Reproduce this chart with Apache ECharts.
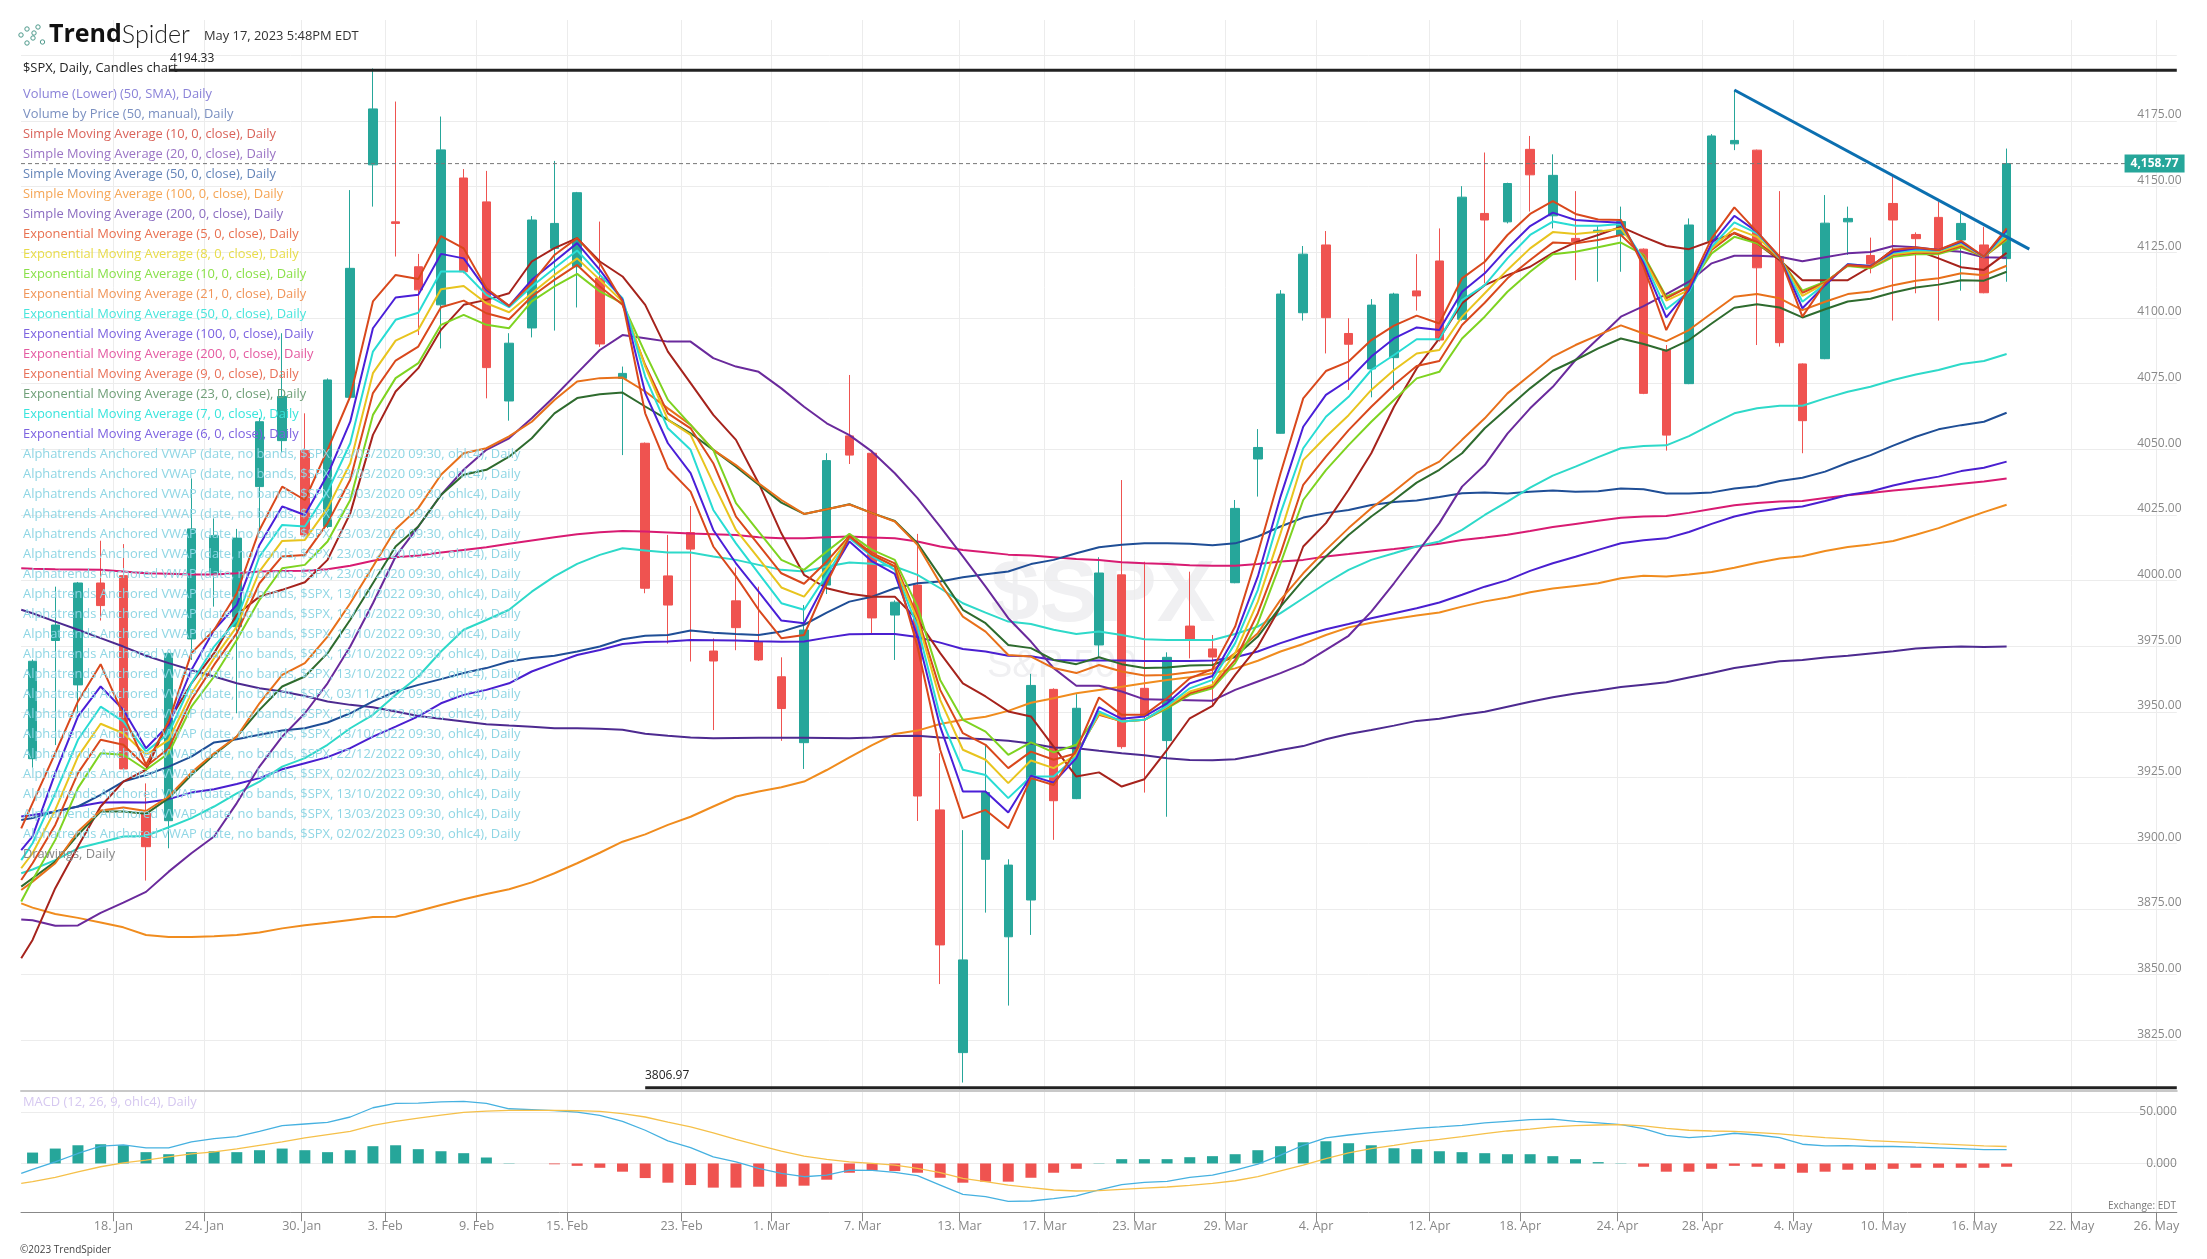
<!DOCTYPE html>
<html>
<head>
<meta charset="utf-8">
<title>$SPX Daily</title>
<script src="https://cdn.jsdelivr.net/npm/echarts@6/dist/echarts.min.js"></script>
<style>
html, body { margin: 0; padding: 0; background: #fff; }
#chart { width: 2207px; height: 1259px; }
</style>
</head>
<body>
<div id="chart"></div>
<script>
// trading day index of the candles: 0..87, x axis runs on this index
const opens = [3932.2,3977.2,3960.3,3999.1,4001.9,3911.4,3908.6,3977.8,4002.8,3982.5,4035.8,4053.3,4049.5,4020.6,4069.8,4158.3,4136.6,4119.5,4105,4153.3,4144.2,4068.4,4096.2,4126.5,4119.5,4115.1,4077,4052.3,4001.8,4018.3,3973.2,3992.3,
3976.8,3963.4,3938.3,3998.3,4055.1,4048.5,3986.9,3998.3,3912.7,3820.3,3893.9,3864.4,3878.4,3958.6,3917,3975.5,4002.2,3959,3939.1,3982.7,3974,3999.2,4046.3,4056.1,4102,4127.8,4094.1,4080.6,4084.9,4110.3,4121.7,4099.5,
4139.8,4136.6,4164.2,4138.9,4130.3,4132.7,4131.6,4126.2,4087.8,4075,4129.3,4166.3,4163.9,4123.3,4082.5,4084.5,4136.6,4123.8,4143.6,4131.8,4138.3,4129.7,4127.8,4122.6];
const closes = [3969.3,3983.1,3999.1,3990.5,3928.3,3898.7,3972.3,4019.7,4017.1,4016.2,4060.5,4070.1,4017.4,4076.4,4118.9,4179.6,4136,4110.7,4164,4117.6,4081.1,4090.4,4137.3,4136,4147.7,4090.1,4078.9,3997.1,3990.7,4012,3969.4,3982.1,
3969.8,3951.3,3981.2,4045.7,4047.8,3985.8,3991.8,3918,3861.3,3855.6,3919.3,3891.7,3960.1,3916.2,3951.4,4002.9,3936.8,3948.6,3970.8,3977.6,3970.9,4027.5,4050.7,4109.1,4124.3,4100.1,4090,4104.9,4109.1,4108.4,4091.6,4146,
4137.3,4151.2,4154.5,4154.3,4129,4133.4,4136.7,4071.3,4055.4,4135.4,4169.3,4167.6,4119.1,4090.6,4060.9,4136.1,4137.9,4120.5,4137.3,4130.2,4125.9,4136,4109.6,4158.77];
const lows = [3928.8,3937.4,3949.5,3984.8,3928,3885.8,3898.1,3969.8,3990.1,3949.5,4018,4048.8,4017,4020,4069,4142.4,4123.4,4093.5,4088.4,4117,4069.4,4060.9,4092.6,4095.2,4104,4089,4047.8,3995.2,3976,3969.2,3943.1,3973.5,
3969.4,3939,3928.3,3994.9,4044.4,3980,3969.8,3908.5,3846.4,3808.9,3873.6,3838.2,3865.1,3901.3,3916.8,3971,3936,3919.3,3910.1,3970.4,3952,3999,4032,4056,4099,4086.5,4072.6,4069.8,4072.6,4102.8,4091,4099,
4113.2,4136,4140.5,4134.1,4114.4,4113.8,4117.6,4071,4049.5,4074.8,4129,4163.9,4089.7,4089.1,4048.5,4084.3,4124,4117,4099,4109.4,4099,4110.4,4109.4,4113.8];
const highs = [3970,3997.7,3999.5,4015.2,4013.9,3922.8,3972.6,4038.9,4023.7,4019.7,4062,4094.2,4063.7,4077,4148.7,4195,4182.4,4124.4,4176.7,4156.7,4156,4094.2,4138.8,4159.8,4148,4136.7,4081.5,4052.6,4017.4,4028.4,3978,4005,
3997.7,3970.8,3990.7,4048.5,4078.3,4049.7,3992.5,4017.8,3934.3,3905,3937.4,3893.9,3964.5,3959,3956.8,4008.9,4038.3,4007.2,3972.7,4003.4,3979.3,4030.7,4057.7,4110.6,4127.4,4133.1,4099.9,4107.2,4109.6,4124.3,4134.1,4150.2,
4163,4151.5,4169.3,4162.3,4148.3,4135,4142.4,4126.5,4089.7,4137.9,4170,4186.8,4164.1,4148.3,4082.7,4146.8,4142.4,4130.6,4153.8,4132.6,4144.3,4139.8,4134.7,4164.5];

// moving averages: first value sits at the left edge of the pane, then one value per candle
const sma10 = [3856.2,3863.2,3882.9,3898.8,3914,3923.5,3928,3946.4,3960.9,3972.4,3987,3993.9,3996.5,3999.4,4007.9,4025.6,4055.5,4072,4080.9,4095.5,4105,4106.9,4109.4,4121.5,4126.6,4130.4,4121.5,4115.8,4105,4087.2,4075.2,4063.1,4053.6,
4037.1,4018,4002.2,3997.1,3995,3993.9,3993.9,3985,3972.4,3960.9,3955.9,3950.2,3948.3,3936.8,3925.4,3927,3921.6,3924.4,3935.6,3947.6,3952.3,3964.1,3974.9,3990.1,4013,4021.9,4034.6,4048.5,4066.2,4080.8,4092.2,4105.6,
4112.5,4116.3,4119.5,4124.8,4128.8,4131.6,4134.7,4130.9,4127.4,4126.2,4129.3,4132.2,4128.4,4122,4114.4,4114.4,4114.4,4119.5,4126.1,4125.9,4122.7,4119.3,4118.3,4124.8];
const sma20 = [3871,3870.7,3868.6,3868.7,3873.5,3877.4,3881.5,3889.2,3896.2,3902.6,3915.3,3929.2,3940.6,3949.5,3960.9,3974.9,3991.4,4009.2,4020.6,4032.6,4042.2,4049.8,4054.2,4061.8,4070.1,4079,4087.8,4093.5,4092.3,4091,4091,4084.7,4081.5,
4079.5,4073.2,4066.2,4059.9,4055.4,4049.1,4040.9,4031.4,4020.6,4009.2,3997.7,3985.7,3976.8,3966.7,3960,3960,3957.8,3954.8,3954.6,3954.5,3954.3,3958.4,3961.6,3964.8,3968.3,3973.6,3979,3988.2,3999,4010.4,4021.9,4035.8,
4044,4056,4065.6,4073.8,4084,4092.2,4100.5,4104.5,4109.1,4113.8,4120.8,4123.7,4123.7,4123.3,4121.6,4123.1,4124.6,4125.1,4127.4,4126.9,4125.9,4125.2,4123.1,4122.9];
const sma50 = [3908.9,3909.6,3912.1,3914,3918.4,3923.5,3926,3929.2,3933,3938.4,3939.6,3941.3,3942.9,3943.8,3946,3949.5,3954,3957.8,3960.3,3962.5,3964.8,3966.7,3969.2,3970.5,3971.4,3973,3974.9,3977.7,3979,3979.3,3981,3980.2,3979.7,
3979.3,3980.6,3983.2,3987.8,3992,3993.9,3997.1,3999,3999.7,4001.3,4002.4,4003.5,4006.3,4007.9,4010.4,4012.7,4013.7,4014.2,4014.2,4014,4013.5,4014.2,4016.8,4020.6,4024,4025.7,4026.9,4028.8,4029.9,4030.5,4031.8,4033.3,
4033.6,4033.2,4033.8,4034.3,4033.8,4034,4035.1,4034.8,4033.2,4033.2,4033.6,4035.1,4035.9,4037.9,4039.2,4041.5,4044.9,4047.8,4051.4,4054.8,4057.6,4059.2,4060.5,4063.9];
const sma100 = [3877.1,3875.5,3873.1,3871.6,3869.8,3868,3865.1,3864.3,3864.3,3864.6,3865.1,3866,3867.6,3868.8,3869.7,3870.8,3871.9,3872,3874.2,3876.5,3878.7,3880.7,3882.5,3885.1,3888.6,3892.4,3896.4,3900.6,3903.4,3907,3910.1,3914,3917.8,
3919.7,3921.3,3923.5,3927.9,3932.7,3937.4,3941.6,3942.9,3945.4,3947,3948.2,3950.4,3953.5,3955.2,3957.1,3958.4,3959.6,3960.9,3962.2,3963.2,3964.7,3966.6,3969.5,3973,3975.9,3979.3,3982.2,3984,3985.4,3986.7,3987.9,3990.1,
3992.1,3993.6,3995.6,3997,3998,3999,4000.9,4001.9,4001.6,4002.3,4003.3,4004.9,4006.8,4008.4,4009.3,4011.3,4012.8,4013.8,4015.1,4017.5,4020,4023.1,4026.1,4028.9];
const sma200 = [3988.9,3987.6,3984.4,3981.3,3978.1,3974.9,3971.4,3968.6,3966,3963.5,3960.9,3959,3957.8,3956.1,3954,3952.7,3951.8,3950.2,3948.5,3947.4,3946.4,3945.3,3944.8,3944.4,3943.8,3943.8,3943.6,3943.2,3941.7,3940.9,3940.3,3940,3940.1,
3940.2,3940.2,3940.2,3940.1,3940,3940.3,3940.8,3940.9,3940.3,3940,3939.6,3939,3938,3936.5,3936.2,3935.2,3934.3,3933.5,3932.4,3931.7,3931.6,3932,3933.6,3935.5,3937,3939.6,3941.6,3943.1,3944.8,3946.6,3947.4,3948.9,
3950.1,3952,3953.9,3955.6,3957,3958.2,3959.5,3960.4,3961.3,3963.1,3964.8,3966.7,3968,3969.3,3969.8,3970.7,3971.4,3972.3,3973.1,3974.2,3974.6,3974.9,3974.7,3974.9];
const ema5 = [3905.7,3915.3,3934.3,3954,3968.2,3948.9,3929.9,3946.4,3972.4,3981.2,3995.2,4019.3,4035.8,4030.7,4049.8,4070.1,4106.3,4116.4,4114.8,4131.2,4126.5,4111.3,4104.6,4113.2,4124,4130.4,4120.8,4106.3,4063.7,4042.8,4033.9,4013,4001.6,
3988.9,3978.1,3979.3,3999,4016.8,4009.8,4005.4,3974.9,3935.6,3909.6,3912.7,3905.7,3924.8,3922.2,3935.6,3955.5,3948.9,3948.9,3955.2,3962.8,3966.3,3982.5,4010.4,4040.9,4069.4,4079.8,4083.4,4091.6,4097.1,4100.9,4097.9,4115.1,
4121.4,4131.6,4139.6,4144.5,4139.6,4137.5,4137.3,4119.5,4095.4,4111.9,4130.3,4142.1,4132.8,4123.3,4100.5,4113.2,4120.2,4119.5,4125.9,4126.8,4125.9,4129.4,4123.3,4134.1];
const ema6 = [3897.4,3902.6,3926.7,3948.3,3959.7,3950.8,3936.2,3945.1,3966,3981.2,3990.8,4013.6,4028.2,4025,4040.3,4060.5,4096.1,4107.8,4108.8,4124.4,4122.7,4110.7,4104.6,4114.5,4121.5,4128.5,4118.3,4106.9,4071.4,4052.3,4040.9,4019.3,4006.6,
3995.8,3984.8,3983.8,4000.3,4014.9,4007.3,4002.6,3978.7,3944.4,3919.7,3919.7,3911.7,3925.7,3923.1,3932.4,3951.8,3947.4,3948.3,3953.3,3960.9,3963.7,3978.7,4001.6,4032,4058.6,4070.7,4076.4,4085.3,4092.2,4096.4,4095.4,4110,
4117,4126.5,4135,4140.1,4137.3,4136.7,4136.3,4120.8,4100.2,4110.6,4128.4,4138.9,4132.8,4123.1,4103.7,4112.5,4120.5,4119.8,4125.2,4126.5,4125.9,4129,4123.3,4133.5];
const ema7 = [3893.6,3900,3919,3939.4,3952,3946.4,3934.9,3941.9,3960.9,3974.9,3985,4009.2,4021.2,4020.6,4033.9,4052.3,4087.2,4099.3,4102,4117.7,4117.7,4108.8,4104.1,4112,4118.9,4125.7,4116.4,4107.5,4077.7,4058,4049.8,4026.9,4014.2,
4002.8,3991.4,3988.9,4002.2,4016.1,4009.2,4004.1,3982.5,3948.3,3928,3926,3917.2,3925.4,3925.4,3933,3950.2,3946.4,3947,3952.3,3959,3962.2,3976.2,3996.5,4025.7,4050.4,4062.4,4070,4080.2,4085.9,4091.9,4091.9,4106.8,
4112.5,4122.7,4131.6,4136.7,4135.1,4135.1,4135.8,4122.1,4103.3,4110,4127.1,4136.4,4132.2,4122.9,4106.2,4112.9,4120.5,4119.8,4124.8,4125.9,4125.6,4128.7,4123.3,4132.2];
const ema8 = [3890.5,3896.2,3912.7,3933,3945.5,3941.9,3933.7,3939.4,3957.1,3970.5,3982.5,4003.5,4015.1,4015.5,4027.6,4044.7,4079,4091.4,4095.5,4110.9,4112.2,4105.6,4102.2,4109.4,4116.4,4122.7,4114.5,4106.3,4081.5,4061.2,4055.5,4037.1,4019.3,
4008.5,3997.4,3993.9,4004.7,4016.5,4009.8,4005.4,3985.1,3954.6,3935.6,3931.8,3922.9,3931.5,3928.6,3933.7,3949.3,3946.4,3947,3952,3957.8,3960.3,3972.4,3992,4018,4045.9,4054.8,4063,4072.6,4080.2,4086.5,4087.8,4100.5,
4109.4,4118.3,4126.5,4132.7,4132,4132.8,4134.1,4122.7,4106.6,4110.6,4126.5,4134.1,4130.9,4122.7,4108.4,4113.2,4120.4,4119.5,4124.3,4125.2,4125.2,4128,4123.3,4130.9];
const ema9 = [3886,3892.4,3907,3926.7,3939.4,3937.5,3929.2,3936.2,3954.6,3967.9,3980,3999,4009.2,4009.8,4021.9,4038.4,4071.4,4083.8,4089.1,4104.1,4106.6,4101.8,4099.5,4108.2,4114.5,4120.2,4112,4105,4082.1,4063.7,4058,4044.7,4024.4,
4013.6,4002.8,3998.8,4007.3,4017,4010.4,4006.6,3986.3,3958.4,3941.9,3937.5,3928.6,3934.9,3931.8,3934.3,3948.9,3946.4,3947,3951.8,3957.1,3959.7,3969.8,3987.6,4010.4,4036.5,4047.2,4057.3,4066.2,4074.5,4081.7,4083.6,4097.3,
4105.8,4115.1,4122.1,4128.7,4128.4,4129.7,4131.6,4123.3,4107.5,4111.9,4125.9,4132.5,4129,4122.7,4109.6,4113.4,4120.2,4119.3,4124,4124.8,4124.8,4127.4,4123.3,4130.3];
const ema10 = [3877.8,3886,3901.3,3921,3934.3,3933.7,3928,3934.3,3952,3963.5,3977.4,3992.7,4004.7,4006,4014.9,4030.7,4063.1,4077.1,4082.8,4097.4,4101.2,4097.4,4096.1,4106.3,4112,4116.8,4110.1,4105.6,4086.6,4068.8,4059.3,4049.8,4029.5,
4018.7,4007.9,4004.1,4011.1,4017.8,4011.7,4007.9,3990.1,3962.2,3947,3942.5,3933.7,3938.4,3934.6,3937.5,3949.5,3946.4,3947,3951.4,3956.5,3959,3968.6,3983.8,4006.6,4030.7,4042.1,4051.6,4060.5,4068.8,4077,4079.5,4092.2,
4100.5,4110,4117.6,4124.3,4125.2,4126.9,4128.7,4124,4108.1,4111.9,4124.6,4130.9,4128.4,4122.7,4110.4,4113.8,4119.8,4118.9,4123.3,4124.3,4124.3,4126.8,4123.3,4129.7];
const ema21 = [3882.2,3885.4,3892.4,3904.5,3912.5,3913.6,3912.3,3917.8,3926.9,3934.3,3940.6,3953.3,3964.1,3968.6,3978.7,3991.4,4005.4,4019.6,4027.6,4040.3,4048.5,4050.4,4054.9,4060.5,4068.8,4075.8,4077.1,4077.3,4072,4065.6,4059.3,4049.8,4044,
4037.1,4030.7,4025.4,4027.2,4029,4025.7,4022.5,4013.6,3999,3986.3,3980.6,3971.7,3971.1,3966.7,3964.8,3967.9,3965.4,3963.9,3964.1,3965.1,3966,3972.4,3980,3992.7,4002.8,4011.7,4020,4027.6,4033.9,4040.9,4045.3,4053.6,
4061.8,4071.3,4078.3,4085.3,4089.7,4093.5,4097.2,4094.1,4091.2,4095.4,4101.8,4108.1,4109.1,4107.5,4103,4106.2,4109.1,4110.1,4112.5,4114.2,4115.1,4117,4116.3,4119.9];
const ema23 = [3883.5,3886.7,3893,3903.2,3912.1,3912.1,3911.2,3917.2,3926,3933.7,3940.6,3950.8,3959.7,3963.5,3972.4,3985.1,3999,4013,4020.6,4032.6,4040.3,4042.2,4047.2,4054.2,4063.7,4069.5,4071,4071.6,4066.3,4061.2,4056.1,4049.8,4043.4,
4036.5,4029.7,4025.4,4027.2,4029.1,4025.7,4022.7,4014.2,4001.6,3988.9,3983.8,3975.5,3974.3,3969.8,3968.2,3970.8,3968.2,3966.7,3966.9,3967.7,3967.9,3971.1,3978.7,3990.1,4000.3,4009.2,4017.4,4024.4,4030.7,4037.3,4042.2,4048.5,
4058,4065.6,4073.2,4079.9,4084,4088.4,4092.2,4090.1,4087.5,4091.6,4097.9,4103.9,4105.2,4104,4100.2,4103.3,4106.3,4107.3,4109.7,4111.6,4112.7,4114.4,4114.2,4117.6];
const ema50 = [3888.6,3890,3893.6,3898.1,3900.3,3902.6,3902.8,3906.1,3909.6,3914,3919,3923.5,3929.2,3932.4,3937.5,3943.8,3948.9,3956.5,3963.5,3973,3981.3,3985,3988.9,3995.8,4001.6,4006.4,4009.8,4012.3,4011.5,4010.7,4010.7,4009.2,4007.9,
4006,4004.1,4003.5,4005.4,4006.9,4006.4,4005.4,4002.2,3997.1,3991.4,3987.8,3984.4,3983.5,3981.3,3979.7,3980.6,3979.3,3977.7,3977.4,3977.4,3977.4,3979.7,3982.5,3987.6,3993.3,3999,4004.1,4007.9,4010.4,4013,4014.9,4019.3,
4025,4030.1,4035.4,4040,4043.4,4047,4050.4,4051.3,4051.5,4055,4059.5,4063.7,4065.6,4066.6,4066.6,4069.4,4071.9,4073.8,4076.4,4078.5,4080.2,4082.5,4083.6,4086.3];
const ema100 = [3910.2,3910.8,3912.1,3914,3915.5,3915.6,3915.5,3916.8,3919.3,3920.6,3922.6,3924.8,3928.2,3930.5,3932.8,3936.2,3940.6,3944.4,3948.3,3953.3,3956.5,3958.4,3960.9,3965.4,3968.6,3971.7,3973.6,3975.9,3976.6,3976.8,3977.4,3977.3,3977.2,
3976.9,3976.7,3976.8,3978.3,3979.6,3979.7,3979.7,3978.5,3976.4,3974,3973,3971.4,3971.2,3969.8,3969.6,3969.6,3969.6,3969.4,3969.4,3969.4,3969.6,3970.8,3973,3976.2,3979,3981.5,3983.5,3985.7,3987.6,3989.5,3991.7,3994.6,
3997.7,4000.2,4003.7,4006.6,4009.1,4011.7,4014.2,4015.4,4016.1,4018.5,4021.6,4024.4,4026.3,4027.5,4028.2,4030.3,4032.6,4033.9,4036.2,4038.1,4039.6,4041.7,4043,4045.3];
const ema200 = [4004.7,4004.5,4004.3,4004.2,4004.1,4003.5,4002.8,4002.6,4002.3,4002.3,4002.8,4003.5,4003.7,4003.8,4004.3,4005.7,4007.6,4008.9,4009.6,4010.7,4011.7,4012.7,4014,4015.3,4016.5,4017.7,4018.4,4018.9,4018.7,4018.3,4017.9,4017.7,4017.4,
4016.5,4016.1,4016.1,4016.5,4016.8,4016.4,4016.1,4014.9,4013,4011.7,4010.8,4009.9,4009.6,4008.9,4008.2,4007.9,4007,4006.6,4006.3,4005.9,4005.7,4005.7,4006.3,4007.3,4007.9,4009.2,4010.1,4011.1,4012,4013,4014,4015.5,
4016.4,4017.5,4018.9,4020.4,4021.6,4022.8,4023.9,4024.4,4024.6,4025.8,4027.3,4028.7,4029.6,4030.1,4030.3,4031.5,4032.5,4033.4,4034.3,4035.1,4035.9,4036.9,4037.7,4038.9];

// MACD pane
const macdHist = [10.6,14.5,17.7,18.7,17.7,11,9,11,11.9,11,12.9,14.5,12.9,11,12.9,16.8,17.7,13.9,11.9,10,5.8,0.3,0,-0.8,-2.3,-4.2,-8,-14.2,-18.7,-21,-23.5,-23.5,
-22.6,-22.6,-21.6,-15.8,-9,-7.1,-7.4,-9,-13.9,-18.7,-17.7,-17.7,-13.9,-9,-5.2,0.3,4.2,4.2,4.2,6.1,7.1,9,12.9,16.8,20.6,21.6,19.7,17.7,14.8,13.9,11.9,11,
10,9,9,7.1,4.2,1.3,0.3,-3.2,-8,-8,-5.2,-2.3,-3.2,-5.2,-9,-8,-6.1,-6.1,-5.2,-4.2,-4.2,-4.2,-4.2,-3.2];
const macdLine = [-9.7,-5.8,1.6,9.7,16.8,18.1,15.2,15.2,21,24.2,26.1,31.3,36.8,38.4,40,45.2,54.2,58.4,58.7,60,60.3,58.4,53.2,52.3,51.3,50,46.8,40.9,32.3,21.9,15.5,6.5,1.6,
-4.8,-9.7,-12.9,-11.3,-6.5,-6.8,-8.7,-11.9,-21,-30,-32.3,-36.8,-36.5,-34.2,-31.6,-25.8,-20.6,-18.4,-17.4,-13.5,-11.3,-6.5,-0.6,8.1,17.7,24.8,27.7,30,31.9,34.2,35.5,37.1,
39.4,41,42.6,43.2,41,39.4,37.7,33.9,27.4,25.2,26.5,29.4,27.7,25.2,18.7,17.1,17.4,16.5,16.5,15.8,15.2,14.5,13.5,13.5];
const macdSignal = [-19.4,-17.7,-13.5,-8.1,-3.2,0.6,3.2,6.5,9.4,11.3,14.2,17.7,21,24.8,28.1,31.3,37.1,41,44.2,47.1,49.7,51,51.6,51.6,51.6,51.3,50.6,48.4,45.2,40.3,35.5,29.7,23.5,
17.7,11.9,7.1,3.9,1.6,0,-1.6,-4.8,-9,-14.5,-17.7,-21,-23.5,-25.8,-26.8,-26.5,-25.2,-23.9,-22.9,-21.3,-19.4,-16.8,-12.9,-7.1,-1.6,4.8,10.3,14.5,17.7,21,23.5,26.1,
29,31.6,33.5,35.5,36.8,37.4,37.7,36.5,34.2,32.3,31.6,31.3,30,28.7,26.8,25.2,23.9,22.3,21.3,20.3,19,18.1,17.1,16.5];

// date axis, the ticks do not sit on candles in the source chart
const dateTicks = [3.56,7.57,11.86,15.54,19.57,23.56,28.6,32.57,36.58,40.85,44.59,48.56,52.58,56.57,61.56,65.56,69.85,73.6,77.59,81.56,85.57,89.86,93.6];
const dateLabels = ['18. Jan','24. Jan','30. Jan','3. Feb','9. Feb','15. Feb','23. Feb','1. Mar','7. Mar','13. Mar','17. Mar','23. Mar','29. Mar','4. Apr','12. Apr','18. Apr','24. Apr','28. Apr','4. May','10. May','16. May','22. May','26. May'];
const priceGrid = [3825,3850,3875,3900,3925,3950,3975,4000,4025,4050,4075,4100,4125,4150,4175,4200];
const priceLabels = [3825,3850,3875,3900,3925,3950,3975,4000,4025,4050,4075,4100,4125,4150,4175];
const macdTicks = [0,50];

// drawings
const highLevel = 4194.33;
const lowLevel = 3806.97;
const lastClose = 4158.77;
const trendX = [75,88];
const trendY = [4186.8,4126.2];

const legendRows = [
    ['Volume (Lower) (50, SMA), Daily','#8a82d8'],
    ['Volume by Price (50, manual), Daily','#7a8fc0'],
    ['Simple Moving Average (10, 0, close), Daily','#d9635a'],
    ['Simple Moving Average (20, 0, close), Daily','#9a74c4'],
    ['Simple Moving Average (50, 0, close), Daily','#6484b8'],
    ['Simple Moving Average (100, 0, close), Daily','#f5a555'],
    ['Simple Moving Average (200, 0, close), Daily','#8a6cc0'],
    ['Exponential Moving Average (5, 0, close), Daily','#e8704f'],
    ['Exponential Moving Average (8, 0, close), Daily','#e8dc4a'],
    ['Exponential Moving Average (10, 0, close), Daily','#8ae048'],
    ['Exponential Moving Average (21, 0, close), Daily','#f09458'],
    ['Exponential Moving Average (50, 0, close), Daily','#48e4dc'],
    ['Exponential Moving Average (100, 0, close), Daily','#7c62e0'],
    ['Exponential Moving Average (200, 0, close), Daily','#e45aa0'],
    ['Exponential Moving Average (9, 0, close), Daily','#e87058'],
    ['Exponential Moving Average (23, 0, close), Daily','#6f9f78'],
    ['Exponential Moving Average (7, 0, close), Daily','#38e4dc'],
    ['Exponential Moving Average (6, 0, close), Daily','#7c62e0']
];
const vwapDates = ['23/03/2020','23/03/2020','23/03/2020','23/03/2020','23/03/2020','23/03/2020','23/03/2020','13/10/2022','13/10/2022','13/10/2022','13/10/2022','13/10/2022','03/11/2022','13/10/2022','13/10/2022','22/12/2022','02/02/2023','13/10/2022','13/03/2023','02/02/2023'];

const FONT = '"Open Sans", sans-serif';
const TEXT_SIZE = '12.9px ';
const UP = '#26a69a';
const DOWN = '#ef5350';
const GRID_LINE = '#ececec';
const X_MIN = -0.51;
const X_MAX = 94.5;

const lineDefs = [
    ['SMA 100', sma100, '#f08c1e', 2],
    ['SMA 200', sma200, '#4d2a90', 2],
    ['EMA 200', ema200, '#d81b72', 2],
    ['EMA 100', ema100, '#4a1fd0', 2],
    ['SMA 50', sma50, '#1f4e96', 2],
    ['EMA 50', ema50, '#2ed9c9', 2],
    ['SMA 20', sma20, '#6a2a9c', 2],
    ['SMA 10', sma10, '#a6231c', 2],
    ['EMA 23', ema23, '#2e6b2e', 2],
    ['EMA 21', ema21, '#e8701a', 2],
    ['EMA 10', ema10, '#7ed321', 2],
    ['EMA 9', ema9, '#d9481c', 2],
    ['EMA 8', ema8, '#e8c41e', 2],
    ['EMA 7', ema7, '#28dcd4', 2],
    ['EMA 6', ema6, '#4a1fd8', 2],
    ['EMA 5', ema5, '#d9481c', 2]
];

// first value of each average is at the pane edge, the rest on the candles
function toPoints(values) {
    return values.map(function (v, i) {
        return [i === 0 ? -0.5 : i - 1, v];
    });
}

function textEl(text, x, y, font, fill, z, align) {
    return {
        type: 'text',
        silent: true,
        z: z,
        style: { text: text, x: x, y: y, font: font, fill: fill, align: align || 'left', verticalAlign: 'middle' }
    };
}

function buildGraphics() {
    const els = [];
    els.push(textEl('$SPX', 1103, 597, 'bold 88px "Liberation Sans", sans-serif', '#f0f0f2', 0, 'center'));
    els.push(textEl('S&P 500', 1062, 667, '38px "Liberation Sans", sans-serif', '#f0f0f2', 0, 'center'));

    [[21,35],[27,29],[38,27],[34,33],[42.5,42],[27,43],[33,38]].forEach(function (c) {
        els.push({ type: 'circle', silent: true, z: 100, shape: { cx: c[0], cy: c[1], r: 2.2 }, style: { fill: 'none', stroke: '#4f9a8c', lineWidth: 1 } });
    });
    els.push({
        type: 'text', silent: true, z: 100,
        style: {
            x: 49, y: 35, verticalAlign: 'middle',
            text: '{a|Trend}{b|Spider}',
            rich: {
                a: { font: 'bold 25px "Open Sans", sans-serif', fill: '#111' },
                b: { font: '300 25px Lato, sans-serif', fill: '#222' }
            }
        }
    });
    els.push(textEl('May 17, 2023 5:48PM EDT', 204, 36, TEXT_SIZE + FONT, '#333', 100));
    els.push(textEl('$SPX, Daily, Candles chart', 23, 68, TEXT_SIZE + FONT, '#222', 100));

    legendRows.forEach(function (row, i) {
        els.push(textEl(row[0], 23, 94.5 + i * 20, TEXT_SIZE + FONT, row[1], 100));
    });
    vwapDates.forEach(function (d, i) {
        const txt = 'Alphatrends Anchored VWAP (date, no bands, $SPX, ' + d + ' 09:30, ohlc4), Daily';
        els.push(textEl(txt, 23, 454.5 + i * 20, TEXT_SIZE + FONT, '#8fd6e4', 100));
    });
    els.push(textEl('Drawings, Daily', 23, 854.5, TEXT_SIZE + FONT, '#888', 100));
    els.push(textEl('MACD (12, 26, 9, ohlc4), Daily', 23, 1102, TEXT_SIZE + FONT, '#d6c8f0', 100));

    els.push(textEl('4194.33', 170, 59, '12px ' + FONT, '#222', 100));
    els.push(textEl('3806.97', 645, 1076, '12px ' + FONT, '#222', 100));
    els.push(textEl('Exchange: EDT', 2176, 1206, '10px ' + FONT, '#777', 100, 'right'));
    els.push(textEl('\u00a92023 TrendSpider', 20, 1250, '10px ' + FONT, '#444', 100));
    return els;
}

function buildSeries() {
    const series = [];
    const candles = opens.map(function (o, i) {
        return [i, o, closes[i], lows[i], highs[i]];
    });
    series.push({
        type: 'candlestick',
        xAxisIndex: 0,
        yAxisIndex: 0,
        barWidth: 9,
        z: 2,
        data: candles,
        itemStyle: { color: UP, color0: DOWN, borderColor: UP, borderColor0: DOWN, borderColorDoji: UP, borderWidth: 1 }
    });
    // dashed last price with its badge
    series.push({
        type: 'line',
        xAxisIndex: 0,
        yAxisIndex: 0,
        symbol: 'none',
        z: 3,
        data: [[X_MIN, lastClose], [X_MAX, lastClose]],
        lineStyle: { color: '#777', width: 1, type: [4, 3] },
        markPoint: {
            symbol: 'rect',
            symbolSize: 0,
            silent: true,
            z: 20,
            data: [{
                coord: [93.52, lastClose],
                label: {
                    show: true,
                    position: 'inside',
                    formatter: '4,158.77',
                    color: '#fff',
                    fontWeight: 'bold',
                    fontSize: 12,
                    fontFamily: FONT,
                    backgroundColor: UP,
                    padding: [3, 6]
                }
            }]
        }
    });
    lineDefs.forEach(function (def) {
        series.push({
            name: def[0],
            type: 'line',
            xAxisIndex: 0,
            yAxisIndex: 0,
            symbol: 'none',
            z: 4,
            data: toPoints(def[1]),
            lineStyle: { color: def[2], width: def[3] }
        });
    });
    series.push({
        name: 'High', type: 'line', xAxisIndex: 0, yAxisIndex: 0, symbol: 'none', z: 5,
        data: [[6.05, highLevel], [X_MAX, highLevel]],
        lineStyle: { color: '#222', width: 3 }
    });
    series.push({
        name: 'Low', type: 'line', xAxisIndex: 0, yAxisIndex: 0, symbol: 'none', z: 5,
        data: [[27, lowLevel], [X_MAX, lowLevel]],
        lineStyle: { color: '#222', width: 3 }
    });
    series.push({
        name: 'Trend', type: 'line', xAxisIndex: 0, yAxisIndex: 0, symbol: 'none', z: 6,
        data: trendX.map(function (x, i) { return [x, trendY[i]]; }),
        lineStyle: { color: '#0b6fb0', width: 3 }
    });

    series.push({
        name: 'MACD Hist',
        type: 'bar',
        xAxisIndex: 1,
        yAxisIndex: 1,
        barWidth: 11,
        z: 2,
        data: macdHist.map(function (v, i) { return [i, v]; }),
        itemStyle: {
            color: function (p) { return p.value[1] >= 0 ? UP : DOWN; }
        }
    });
    series.push({
        name: 'MACD', type: 'line', xAxisIndex: 1, yAxisIndex: 1, symbol: 'none', z: 3,
        data: toPoints(macdLine),
        lineStyle: { color: '#46b1e0', width: 1.3 }
    });
    series.push({
        name: 'Signal', type: 'line', xAxisIndex: 1, yAxisIndex: 1, symbol: 'none', z: 3,
        data: toPoints(macdSignal),
        lineStyle: { color: '#f5c04a', width: 1.3 }
    });
    return series;
}

const chart = echarts.init(document.getElementById('chart'), null, { renderer: 'canvas' });

const option = {
    backgroundColor: '#fff',
    animation: false,
    tooltip: { show: false },
    graphic: { elements: buildGraphics() },
    grid: [
        { left: 21, right: 30.2, top: 20, height: 1070.7 },
        { left: 21, right: 30.2, top: 1091.5, height: 120.8 }
    ],
    xAxis: [
        {
            type: 'value',
            gridIndex: 0,
            min: X_MIN,
            max: X_MAX,
            axisLine: { show: true, onZero: false, lineStyle: { color: '#c8c8c8', width: 2 } },
            axisTick: { show: false, customValues: dateTicks },
            axisLabel: { show: false },
            splitLine: { show: true, lineStyle: { color: GRID_LINE, width: 1 } }
        },
        {
            type: 'value',
            gridIndex: 1,
            min: X_MIN,
            max: X_MAX,
            axisLine: { show: true, onZero: false, lineStyle: { color: '#888', width: 1 } },
            axisTick: { show: true, length: 9, customValues: dateTicks, lineStyle: { color: '#888' } },
            axisLabel: {
                show: true,
                customValues: dateTicks,
                margin: 8,
                color: '#888',
                fontSize: 12.6,
                fontFamily: FONT,
                hideOverlap: false,
                formatter: function (v) {
                    return dateLabels[dateTicks.indexOf(v)];
                }
            },
            splitLine: { show: true, lineStyle: { color: GRID_LINE, width: 1 } }
        }
    ],
    yAxis: [
        {
            type: 'value',
            gridIndex: 0,
            position: 'right',
            min: 3805.8,
            max: 4213.45,
            axisLine: { show: false },
            axisTick: { show: false, customValues: priceGrid },
            axisLabel: {
                inside: true,
                customValues: priceLabels,
                margin: -4.7,
                align: 'right',
                verticalAlign: 'bottom',
                color: '#888',
                fontSize: 12,
                fontFamily: FONT,
                formatter: function (v) { return v.toFixed(2); }
            },
            splitLine: { show: true, lineStyle: { color: GRID_LINE, width: 1 } }
        },
        {
            type: 'value',
            gridIndex: 1,
            position: 'right',
            min: -47.5,
            max: 70,
            axisLine: { show: false },
            axisTick: { show: false, customValues: macdTicks },
            axisLabel: {
                inside: true,
                customValues: macdTicks,
                margin: 0,
                align: 'right',
                verticalAlign: 'middle',
                color: '#888',
                fontSize: 12,
                fontFamily: FONT,
                formatter: function (v) { return v.toFixed(3); }
            },
            splitLine: { show: true, lineStyle: { color: GRID_LINE, width: 1 } }
        }
    ],
    series: buildSeries()
};

chart.setOption(option);
window.addEventListener('resize', function () { chart.resize(); });
</script>
</body>
</html>
